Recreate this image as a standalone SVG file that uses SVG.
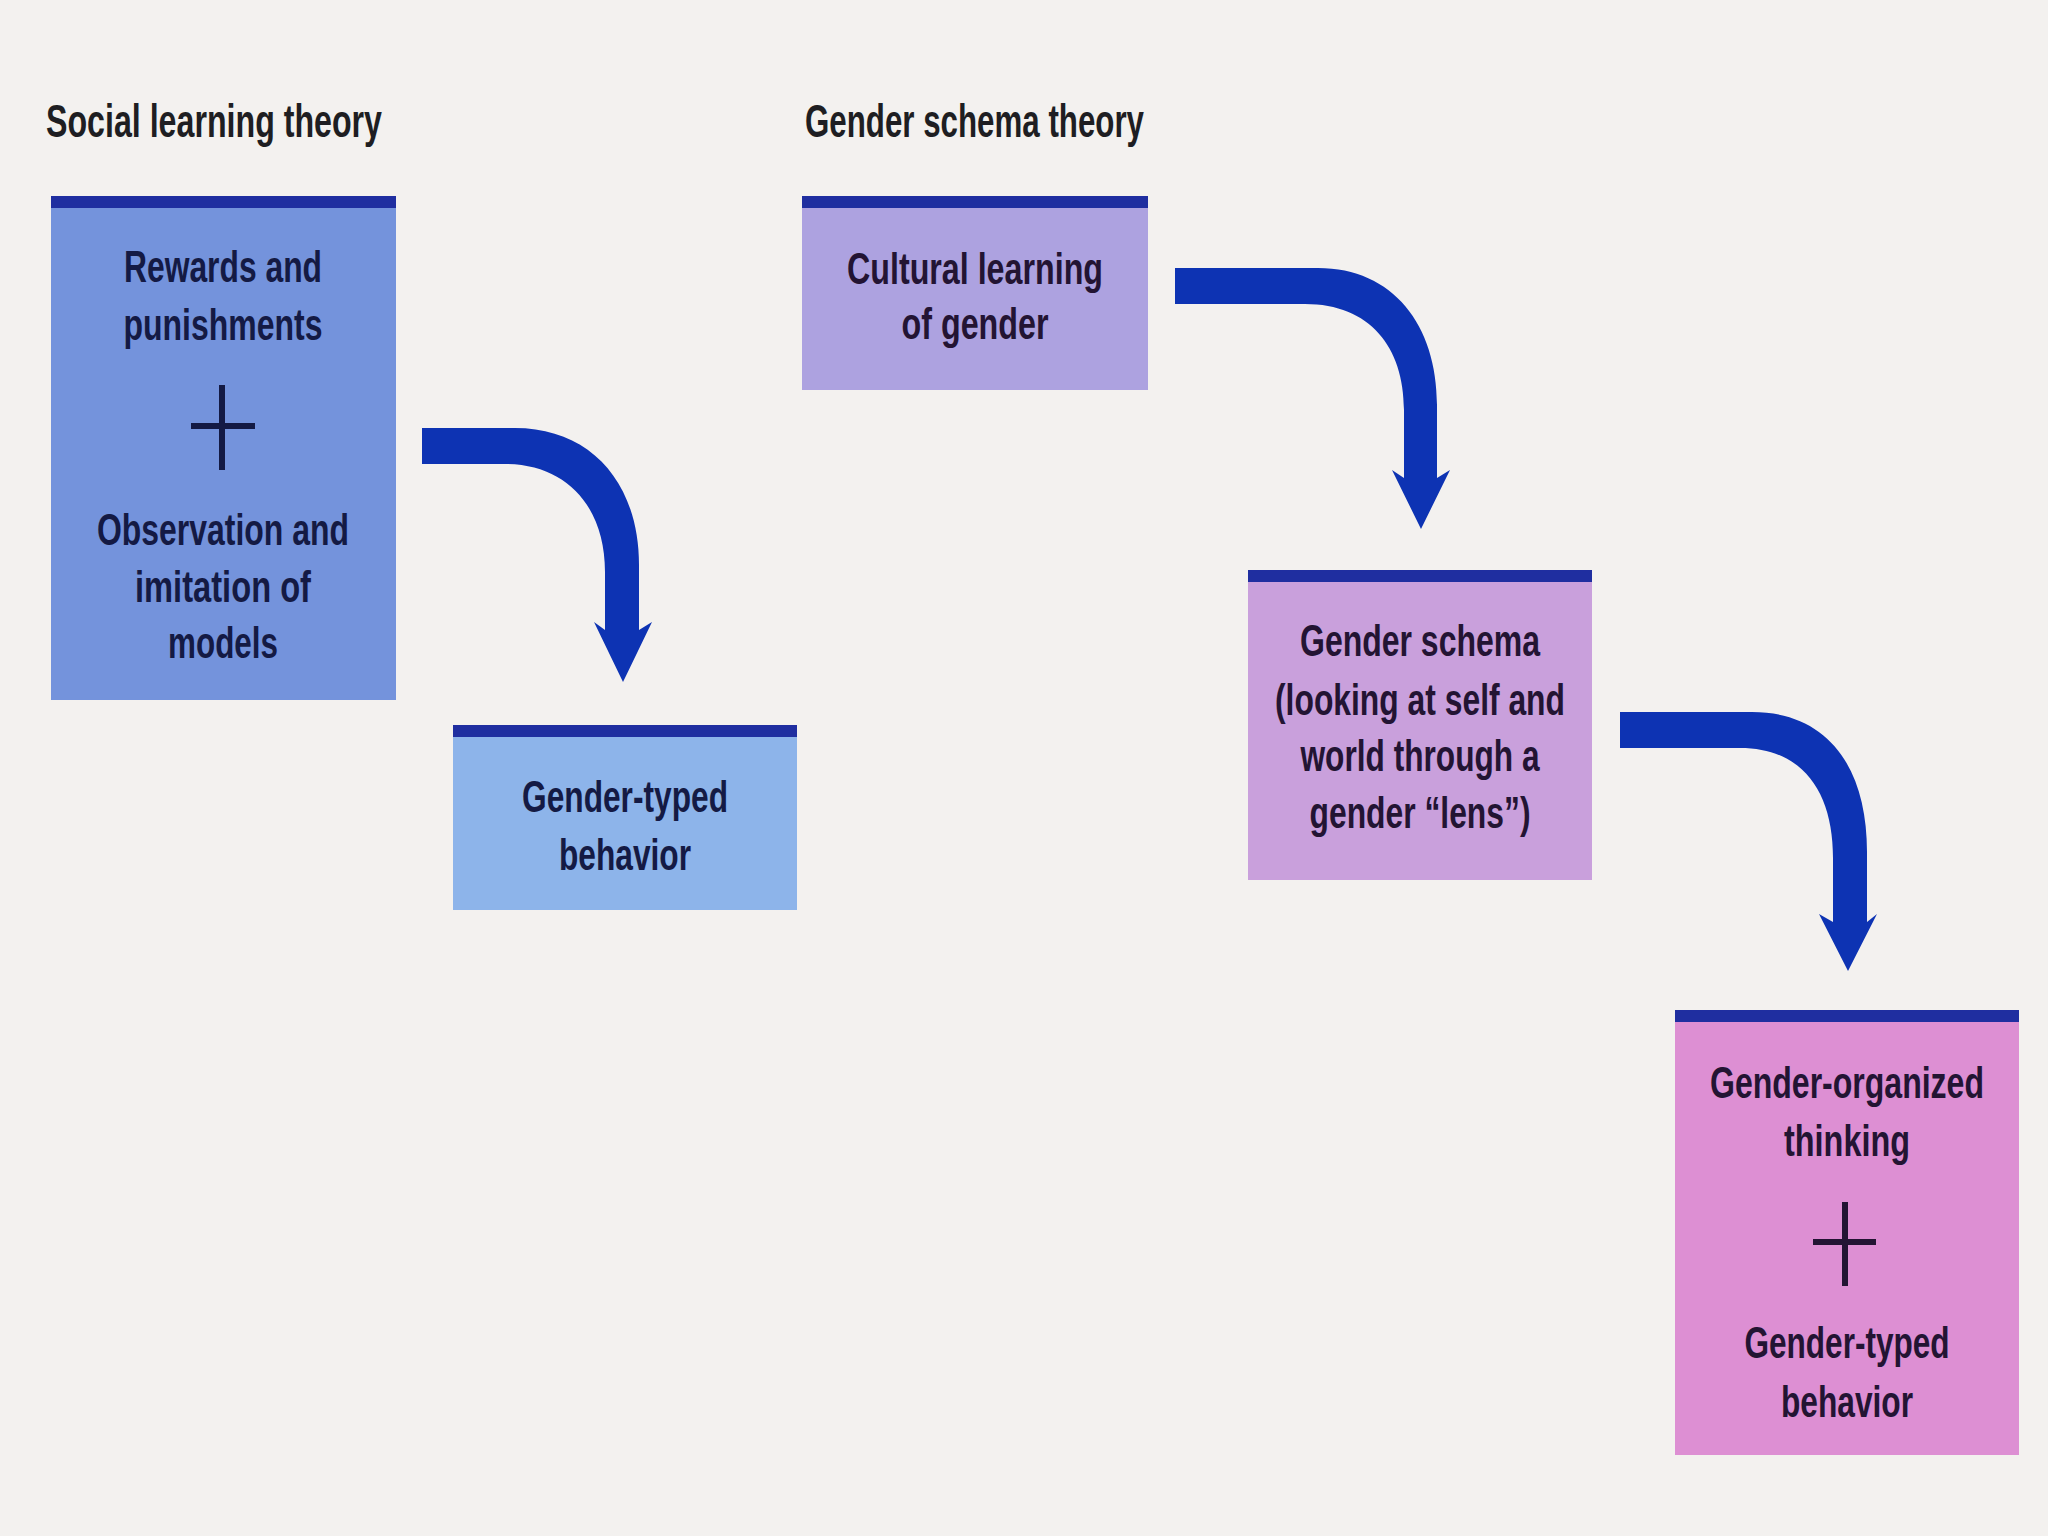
<svg xmlns="http://www.w3.org/2000/svg" width="2048" height="1536" viewBox="0 0 2048 1536">
  <style>
    .bg { fill: #f3f1ef; }
    .title { font-family: "Liberation Sans", Arial, sans-serif; font-weight: bold; font-size: 46px; fill: #1e1e22; }
    .lbl { font-family: "Liberation Sans", Arial, sans-serif; font-weight: bold; font-size: 45px; text-anchor: middle; }
    .lbl-blue { fill: #141a44; }
    .lbl-purple { fill: #231433; }
    .bar { fill: #1f2ea0; }
    .plus { stroke-width: 6; fill: none; }
    .arrow { fill: #0d33b3; }
    .b1 { fill: #7493dc; }
    .b2 { fill: #8db4ea; }
    .b3 { fill: #ada2e0; }
    .b4 { fill: #c9a0dc; }
    .b5 { fill: #dd8fd3; }
  </style>
  <rect class="bg" x="0" y="0" width="2048" height="1536"/>

  <g id="titles">
    <text class="title" x="46" y="137" textLength="336" lengthAdjust="spacingAndGlyphs">Social learning theory</text>
    <text class="title" x="805" y="137" textLength="339" lengthAdjust="spacingAndGlyphs">Gender schema theory</text>
  </g>

  <g id="node-rewards-observation">
    <rect class="b1" x="51" y="196" width="345" height="504"/>
    <rect class="bar" x="51" y="196" width="345" height="12"/>
    <text class="lbl lbl-blue" x="223" y="282" textLength="198" lengthAdjust="spacingAndGlyphs">Rewards and</text>
    <text class="lbl lbl-blue" x="223" y="340" textLength="199" lengthAdjust="spacingAndGlyphs">punishments</text>
    <g class="plus" stroke="#141a44">
      <line x1="222" y1="385" x2="222" y2="470"/>
      <line x1="191" y1="426" x2="255" y2="426"/>
    </g>
    <text class="lbl lbl-blue" x="223" y="545" textLength="252" lengthAdjust="spacingAndGlyphs">Observation and</text>
    <text class="lbl lbl-blue" x="223" y="602" textLength="176" lengthAdjust="spacingAndGlyphs">imitation of</text>
    <text class="lbl lbl-blue" x="223" y="658" textLength="110" lengthAdjust="spacingAndGlyphs">models</text>
  </g>

  <g id="node-gender-typed-behavior">
    <rect class="b2" x="453" y="725" width="344" height="185"/>
    <rect class="bar" x="453" y="725" width="344" height="12"/>
    <text class="lbl lbl-blue" x="625" y="812" textLength="206" lengthAdjust="spacingAndGlyphs">Gender-typed</text>
    <text class="lbl lbl-blue" x="625" y="870" textLength="132" lengthAdjust="spacingAndGlyphs">behavior</text>
  </g>

  <g id="node-cultural-learning">
    <rect class="b3" x="802" y="196" width="346" height="194"/>
    <rect class="bar" x="802" y="196" width="346" height="12"/>
    <text class="lbl lbl-purple" x="975" y="284" textLength="256" lengthAdjust="spacingAndGlyphs">Cultural learning</text>
    <text class="lbl lbl-purple" x="975" y="339" textLength="147" lengthAdjust="spacingAndGlyphs">of gender</text>
  </g>

  <g id="node-gender-schema">
    <rect class="b4" x="1248" y="570" width="344" height="310"/>
    <rect class="bar" x="1248" y="570" width="344" height="12"/>
    <text class="lbl lbl-purple" x="1420" y="656" textLength="240" lengthAdjust="spacingAndGlyphs">Gender schema</text>
    <text class="lbl lbl-purple" x="1420" y="715" textLength="290" lengthAdjust="spacingAndGlyphs">(looking at self and</text>
    <text class="lbl lbl-purple" x="1420" y="771" textLength="239" lengthAdjust="spacingAndGlyphs">world through a</text>
    <text class="lbl lbl-purple" x="1420" y="828" textLength="221" lengthAdjust="spacingAndGlyphs">gender “lens”)</text>
  </g>

  <g id="node-gender-organized">
    <rect class="b5" x="1675" y="1010" width="344" height="445"/>
    <rect class="bar" x="1675" y="1010" width="344" height="12"/>
    <text class="lbl lbl-purple" x="1847" y="1098" textLength="274" lengthAdjust="spacingAndGlyphs">Gender-organized</text>
    <text class="lbl lbl-purple" x="1847" y="1156" textLength="126" lengthAdjust="spacingAndGlyphs">thinking</text>
    <g class="plus" stroke="#231433">
      <line x1="1845" y1="1202" x2="1845" y2="1286"/>
      <line x1="1813" y1="1242" x2="1876" y2="1242"/>
    </g>
    <text class="lbl lbl-purple" x="1847" y="1358" textLength="205" lengthAdjust="spacingAndGlyphs">Gender-typed</text>
    <text class="lbl lbl-purple" x="1847" y="1417" textLength="132" lengthAdjust="spacingAndGlyphs">behavior</text>
  </g>

  <g id="connectors">
    <path class="arrow" d="M422,428 H515 C590,428 639,482 639,565 V630 L652,622 L623,682 L594,622 L605,630 V572 C605,506 566,464 505,464 H422 Z"/>
    <path class="arrow" d="M1175,268 H1318 C1393,268 1437,325 1437,405 V478 L1450,470 L1421,529 L1392,470 L1404,478 V410 C1404,347 1370,304 1305,304 H1175 Z"/>
    <path class="arrow" d="M1620,712 H1752 C1830,712 1867,770 1867,852 V922 L1877,914 L1848,971 L1819,914 L1833,922 V858 C1833,792 1803,748 1740,748 H1620 Z"/>
  </g>
</svg>
